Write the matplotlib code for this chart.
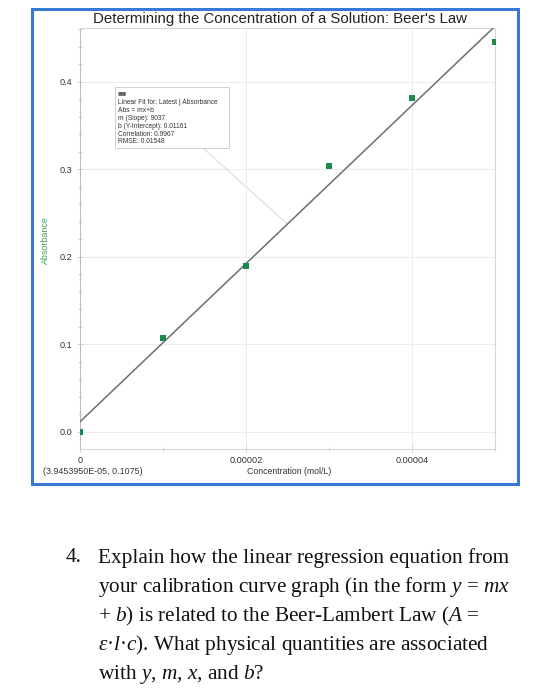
import matplotlib
matplotlib.use("Agg")
import matplotlib.pyplot as plt
from matplotlib.patches import Rectangle
from matplotlib.ticker import MultipleLocator, FixedLocator

# ---- data ----
concentration = [0.0, 0.00001, 0.00002, 0.00003, 0.00004, 0.00005]
absorbance = [0.000, 0.107, 0.190, 0.304, 0.381, 0.446]
slope = 9037
intercept = 0.01161
fit_lines = ["Linear Fit for: Latest | Absorbance", "Abs = mx+b", "m (Slope): 9037",
             "b (Y-Intercept): 0.01161", "Correlation: 0.9967", "RMSE: 0.01548"]
x_ticks = [0, 0.00002, 0.00004]
x_tick_labels = ["0", "0.00002", "0.00004"]
y_ticks = [0.0, 0.1, 0.2, 0.3, 0.4]
y_tick_labels = ["0.0", "0.1", "0.2", "0.3", "0.4"]
title = "Determining the Concentration of a Solution: Beer's Law"
cursor_text = "(3.9453950E-05, 0.1075)"

plt.rcParams['font.family'] = ['Liberation Sans', 'DejaVu Sans']
plt.rcParams['mathtext.fontset'] = 'custom'
plt.rcParams['mathtext.rm'] = 'Liberation Serif'
plt.rcParams['mathtext.it'] = 'Liberation Serif:italic'

W, H = 557, 700
fig = plt.figure(figsize=(W / 100, H / 100), dpi=100)

def fx(px):
    return px / W

def fy(py):
    return 1 - py / H

# blue frame
fig.patches.append(Rectangle((fx(32), fy(484)), fx(518) - fx(32), fy(9) - fy(484),
                             transform=fig.transFigure, fill=False,
                             edgecolor='#3a78d6', linewidth=2.2, zorder=0))

ax = fig.add_axes([fx(80), fy(449), fx(495) - fx(80), fy(28) - fy(449)])
ax.set_xlim(0, 0.00005)
ax.set_ylim(-0.0195, 0.4615)

for s in ax.spines.values():
    s.set_color('#d8d8d8')
    s.set_linewidth(0.8)
ax.spines['left'].set_color('#bbbbbb')

ax.xaxis.set_major_locator(FixedLocator(x_ticks))
ax.set_xticklabels(x_tick_labels)
ax.xaxis.set_minor_locator(MultipleLocator(0.00001))
ax.yaxis.set_major_locator(FixedLocator(y_ticks))
ax.set_yticklabels(y_tick_labels)
ax.yaxis.set_minor_locator(MultipleLocator(0.02))
ax.tick_params(which='both', direction='inout', color='#c8c8c8', labelsize=6.6,
               labelcolor='#333333', width=0.6)
ax.tick_params(which='major', length=5)
ax.tick_params(axis='x', which='major', pad=2.5)
ax.tick_params(axis='y', which='major', pad=3)
ax.tick_params(which='minor', length=3)
ax.grid(True, which='major', color='#ececec', linewidth=0.7)
ax.set_axisbelow(True)

# fit line
xs = [0.0, 0.00005]
ax.plot(xs, [slope * x + intercept for x in xs], color='#6e6e6e', linewidth=1.1, zorder=3)
# points
ax.plot(concentration, absorbance, linestyle='none', marker='s', markersize=4.3,
        color='#1b8a4c', markeredgewidth=0, zorder=4)

# fit annotation box
bx0, bx1 = (115 - 80) / 415, (229 - 80) / 415
by0, by1 = (449 - 148) / 421, (449 - 87) / 421
ax.add_patch(Rectangle((bx0, by0), bx1 - bx0, by1 - by0, transform=ax.transAxes,
                       facecolor='white', edgecolor='#d0d0d0', linewidth=0.7, zorder=5))
ax.text(bx0 + 0.007, (449 - 94) / 421, "■■", transform=ax.transAxes, fontsize=5.5,
        color='#666666', va='center', ha='left', zorder=6)
line_y = [102.5, 110, 118, 126, 134, 141.5]
for t, py in zip(fit_lines, line_y):
    ax.text(bx0 + 0.007, (449 - py) / 421, t, transform=ax.transAxes, fontsize=4.8,
            color='#333333', va='center', ha='left', zorder=6)
xm = 0.000025
ax.annotate("", xy=(xm, slope * xm + intercept), xycoords='data',
            xytext=((203 - 80) / 415, by0), textcoords='axes fraction',
            arrowprops=dict(arrowstyle='-', color='#dcdcdc', linewidth=0.8,
                            shrinkA=0, shrinkB=0), zorder=2)

fig.text(fx(280), fy(19), title, fontsize=10.8, color='#222222',
         ha='center', va='center')
fig.text(fx(289), fy(472), "Concentration (mol/L)", fontsize=6.3, color='#333333',
         ha='center', va='center')
fig.text(fx(45), fy(240), "Absorbance", fontsize=6.4, color='#3d9e63', rotation=90,
         ha='center', va='center')
fig.text(fx(43), fy(472), cursor_text, fontsize=6.4, color='#333333', ha='left', va='center')

# question text
serif = ['Liberation Serif', 'DejaVu Serif']
q_lines = [
    "Explain how the linear regression equation from",
    r"your calibration curve graph (in the form $y$ = $mx$",
    r"+ $b$) is related to the Beer-Lambert Law ($A$ =",
    r"$\varepsilon$·$l$·$c$). What physical quantities are associated",
    r"with $y$, $m$, $x$, and $b$?",
]
q_y = [558, 587, 616, 645, 674]
fig.text(fx(66), fy(558), "4.", fontsize=15.3, family=serif, color='#111111',
         ha='left', va='center')
for t, py in zip(q_lines, q_y):
    fig.text(fx(98), fy(py), t, fontsize=15.3, family=serif, color='#111111',
             ha='left', va='center')

fig.savefig("out.png", dpi=100)
